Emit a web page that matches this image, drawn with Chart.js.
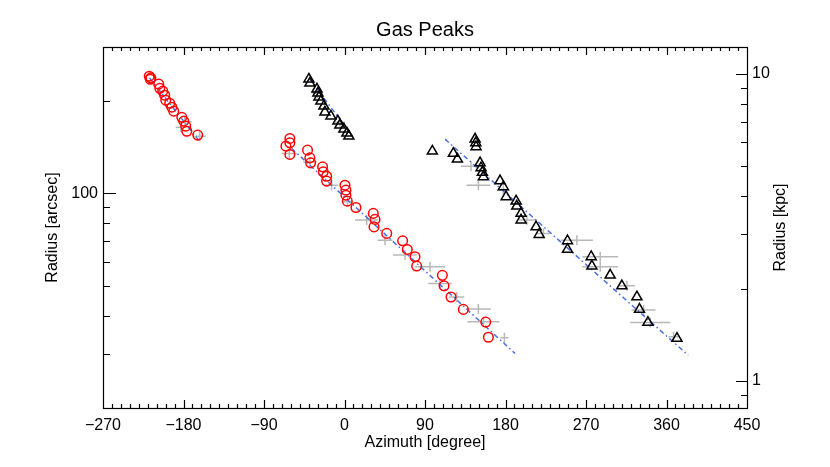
<!DOCTYPE html>
<html>
<head>
<meta charset="utf-8">
<script src="https://cdn.jsdelivr.net/npm/chart.js@4.4.1/dist/chart.umd.min.js"></script>
<style>
  html, body { margin: 0; padding: 0; background: #fff; }
  #wrap { width: 830px; height: 467px; }
</style>
</head>
<body>
<div id="wrap"><canvas id="gasChart" width="830" height="467"></canvas></div>
<script>
// arcsec per kpc, used for the right hand axis
var ARCSEC_PER_KPC = 24.5;

// red circles, inner arm piece
var circA_az = [-218.3, -217.2, -216.5, -207.7, -206.5, -203.2, -201.0, -199.8, -195.4, -193.1, -190.9, -181.9, -179.7, -177.5, -176.3, -164.1];
var circA_r  = [241, 235.6, 238, 227, 220, 215.4, 209, 201.3, 196.8, 191, 185.4, 177, 172, 165.7, 159.5, 154.9];

// red circles, long arm
var circB_az = [-61.1, -61.1, -65.5, -61.1, -41.3, -38.7, -37.9, -24.5, -23.8, -20.0, -20.0, 0.5, 1.6, 1.6, 3.1, 12.8, 32.2, 34.1, 33.0, 47.2, 65.0, 70.2, 78.8, 80.7, 109.4, 111.3, 119.1, 132.9, 157.9, 160.9];
var circB_r  = [151.1, 146.2, 142.6, 134.0, 138.4, 130.6, 125.8, 122.1, 117.6, 113.8, 109.7, 106.4, 102.5, 98.7, 94.4, 90.0, 86.1, 82.3, 77.8, 74.1, 70.1, 65.7, 62.2, 58.0, 54.1, 50.0, 46.0, 41.9, 38.1, 34.0];

// black triangles, short arm
var triA_az = [-39.8, -38.7, -30.8, -29.7, -28.6, -26.4, -23.0, -21.9, -15.2, -7.4, -5.2, -0.7, 2.7, 4.9];
var triA_r  = [235.6, 228.7, 218.7, 212.2, 205.9, 199.8, 192.5, 184.0, 178.6, 172.0, 166.9, 162.0, 157.2, 153.7];

// black triangles, long arm
var triB_az = [98.2, 121.7, 126.2, 146.0, 146.8, 147.1, 151.6, 152.7, 154.1, 155.3, 173.9, 177.6, 180.7, 191.9, 192.6, 197.4, 197.4, 214.2, 217.6, 249.3, 249.3, 275.8, 276.6, 297.0, 310.1, 326.9, 329.8, 339.2, 371.7];
var triB_r  = [137.3, 135.0, 129.3, 150.3, 146.2, 141.9, 125.8, 121.2, 117.1, 113.3, 109.9, 105.1, 97.5, 94.4, 90.9, 86.1, 81.9, 77.8, 73.5, 70.1, 65.7, 62.2, 58.0, 54.2, 50.0, 46.0, 41.9, 38.0, 33.7];

// grey crosses with azimuth error
var cross_az  = [-206.5, -183.0, -178.6, -161.8, -30.3, -5.0, -61.8, -38.7, -14.4, 3.5, 24.8, 45.3, 67.6, 95.6, 106.8, 125.5, 149.7, 155.3, 178.8, 141.5, 149.7, 177.6, 203.8, 222.4, 259.8, 285.9, 285.9, 315.7, 334.3, 341.8, 367.9];
var cross_r   = [213.8, 164.4, 171.1, 153.7, 212.2, 170.7, 135.0, 126.7, 106.4, 93.9, 81.9, 70.4, 63.0, 57.7, 50.9, 46.0, 42.0, 38.2, 33.9, 122.7, 106.4, 102.5, 81.9, 74.1, 70.4, 62.2, 57.7, 50.0, 41.7, 38.0, 34.1];
var cross_err = [4.5, 5.6, 7.8, 6.7, 5.6, 5.6, 8.4, 7.5, 7.3, 5.6, 13.1, 8.4, 13.4, 16.8, 13.1, 8.4, 14.0, 17.9, 4.5, 11.2, 13.4, 6.7, 9.0, 7.8, 17.9, 20.0, 20.0, 9.0, 13.4, 22.4, 5.6];

// fitted lines: [start, end]
var fitA_az = [-218, -163], fitA_r = [238, 149];
var fitB_az = [-39.8, 10.6], fitB_r = [237.5, 151.4];
var fitC_az = [-59.2, 190.7], fitC_r = [140.2, 30.1];
var fitD_az = [112.4, 384.3], fitD_r = [150.3, 29.7];

var xTicks = [-270, -180, -90, 0, 90, 180, 270, 360, 450];
var yTicks = [100];
var kpcTicks = [1, 10];

function pts(az, r) {
  return az.map(function(a, i) { return {x: a, y: r[i]}; });
}
function fitSet(az, r) {
  return {
    data: pts(az, r), showLine: true, pointRadius: 0, borderColor: '#4a6fe3',
    borderWidth: 1.5, borderDash: [5, 3, 1.5, 3], fill: false, order: 2
  };
}
function fmt(v) {
  return v < 0 ? '\u2212' + Math.abs(v) : String(v);
}

Chart.defaults.font.family = '"Liberation Sans", Arial, Helvetica, sans-serif';
Chart.defaults.color = '#000';

var crossData = cross_az.map(function(a, i) { return {x: a, y: cross_r[i], xe: cross_err[i]}; });

var idlAxes = {
  id: 'idlAxes',
  beforeDatasetsDraw: function(chart) {
    var ctx = chart.ctx, xs = chart.scales.x, ys = chart.scales.y;
    ctx.save();
    ctx.strokeStyle = '#b8b8b8';
    ctx.lineWidth = 1.5;
    crossData.forEach(function(c) {
      var px = xs.getPixelForValue(c.x), py = ys.getPixelForValue(c.y);
      var x0 = xs.getPixelForValue(c.x - c.xe), x1 = xs.getPixelForValue(c.x + c.xe);
      ctx.beginPath();
      ctx.moveTo(x0, py); ctx.lineTo(x1, py);
      ctx.moveTo(px, py - 5); ctx.lineTo(px, py + 5);
      ctx.stroke();
    });
    ctx.restore();
  },
  afterDraw: function(chart) {
    var ctx = chart.ctx, a = chart.chartArea;
    var xs = chart.scales.x, ys = chart.scales.y, ks = chart.scales.y2;
    ctx.save();
    ctx.strokeStyle = '#000';
    ctx.lineWidth = 1.2;
    ctx.strokeRect(a.left + 0.5, a.top + 0.5, a.right - a.left, a.bottom - a.top);
    ctx.beginPath();
    for (var v = -260; v < 450; v += 10) {
      var px = Math.round(xs.getPixelForValue(v)) + 0.5;
      var len = (v % 90 === 0) ? 8 : 4;
      ctx.moveTo(px, a.bottom); ctx.lineTo(px, a.bottom - len);
      ctx.moveTo(px, a.top); ctx.lineTo(px, a.top + len);
    }
    [30, 40, 50, 60, 70, 80, 90, 100, 200].forEach(function(v) {
      var py = Math.round(ys.getPixelForValue(v)) + 0.5;
      ctx.moveTo(a.left, py); ctx.lineTo(a.left + (v === 100 ? 13 : 7), py);
    });
    [0.9, 1, 2, 3, 4, 5, 6, 7, 8, 9, 10].forEach(function(v) {
      var py = Math.round(ks.getPixelForValue(v)) + 0.5;
      ctx.moveTo(a.right, py); ctx.lineTo(a.right - (v === 1 || v === 10 ? 11 : 6), py);
    });
    ctx.stroke();
    ctx.translate(781, (a.top + a.bottom) / 2);
    ctx.rotate(-Math.PI / 2);
    ctx.font = '16px "Liberation Sans", Arial, sans-serif';
    ctx.fillStyle = '#000';
    ctx.textAlign = 'center';
    ctx.textBaseline = 'middle';
    ctx.fillText('Radius [kpc]', 0, 0);
    ctx.restore();
  }
};

var ctx = document.getElementById('gasChart').getContext('2d');
var chart = new Chart(ctx, {
  type: 'scatter',
  data: {
    datasets: [
      {data: crossData, pointRadius: 0, showLine: false, order: 3},
      fitSet(fitA_az, fitA_r), fitSet(fitB_az, fitB_r), fitSet(fitC_az, fitC_r), fitSet(fitD_az, fitD_r),
      {data: pts(circA_az, circA_r), pointStyle: 'circle', pointRadius: 4.8, borderWidth: 1.5, borderColor: '#ff0000', backgroundColor: 'rgba(0,0,0,0)', order: 1},
      {data: pts(circB_az, circB_r), pointStyle: 'circle', pointRadius: 4.8, borderWidth: 1.5, borderColor: '#ff0000', backgroundColor: 'rgba(0,0,0,0)', order: 1},
      {data: pts(triA_az, triA_r), pointStyle: 'triangle', pointRadius: 5.8, borderWidth: 1.5, borderColor: '#000', backgroundColor: 'rgba(0,0,0,0)', order: 1},
      {data: pts(triB_az, triB_r), pointStyle: 'triangle', pointRadius: 5.8, borderWidth: 1.5, borderColor: '#000', backgroundColor: 'rgba(0,0,0,0)', order: 1}
    ]
  },
  options: {
    responsive: false,
    animation: false,
    layout: {padding: 0},
    plugins: {
      legend: {display: false},
      tooltip: {enabled: false},
      title: {
        display: true, text: 'Gas Peaks', fullSize: false,
        font: {size: 20, weight: 'normal'}, padding: {top: 18, bottom: 5}
      }
    },
    scales: {
      x: {
        type: 'linear', position: 'bottom', min: -270, max: 450,
        afterBuildTicks: function(s) { s.ticks = xTicks.map(function(v) { return {value: v}; }); },
        afterFit: function(s) { s.height = 59; },
        grid: {display: false, drawTicks: false}, border: {display: false},
        ticks: {font: {size: 16}, padding: 8, maxRotation: 0, callback: function(v) { return fmt(v); }},
        title: {display: true, text: 'Azimuth [degree]', font: {size: 16}, padding: {bottom: 15}}
      },
      y: {
        type: 'logarithmic', position: 'left', min: 20, max: 300,
        afterBuildTicks: function(s) { s.ticks = yTicks.map(function(v) { return {value: v}; }); },
        afterFit: function(s) { s.width = 103; },
        grid: {display: false, drawTicks: false}, border: {display: false},
        ticks: {font: {size: 16}, padding: 5, callback: function(v) { return String(v); }},
        title: {display: true, text: 'Radius [arcsec]', font: {size: 16}, padding: {top: 43}}
      },
      y2: {
        type: 'logarithmic', position: 'right', display: true,
        min: 20 / ARCSEC_PER_KPC, max: 300 / ARCSEC_PER_KPC,
        afterBuildTicks: function(s) { s.ticks = kpcTicks.map(function(v) { return {value: v}; }); },
        afterFit: function(s) { s.width = 83; },
        grid: {display: false, drawTicks: false}, border: {display: false},
        ticks: {font: {size: 16}, padding: 5, callback: function(v) { return String(v); }}
      }
    }
  },
  plugins: [idlAxes]
});
</script>
</body>
</html>
